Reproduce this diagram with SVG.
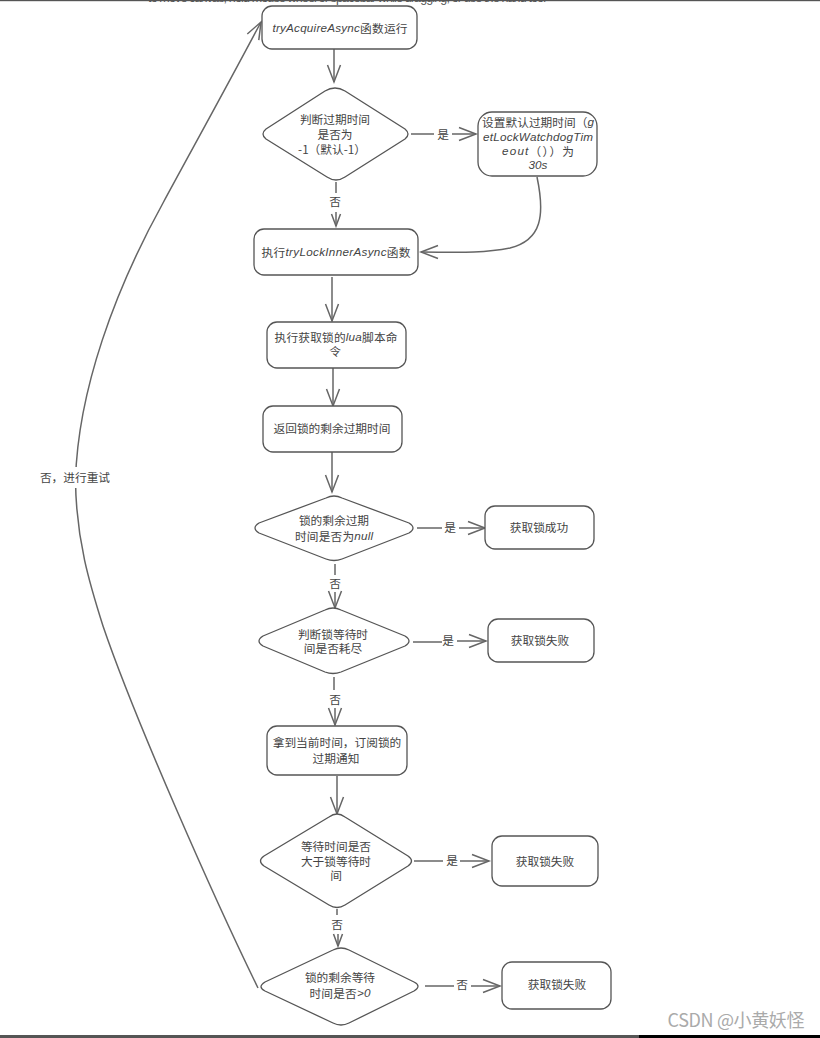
<svg xmlns="http://www.w3.org/2000/svg" width="820" height="1038" viewBox="0 0 820 1038">
<style>
text{font-family:"Noto Sans CJK SC","Liberation Sans",sans-serif;font-size:11.7px;fill:#444;text-anchor:middle;dominant-baseline:central;transform:translateY(-1px)}
.l{font-family:"Liberation Sans",sans-serif;font-style:italic}
.shape{fill:#fff;stroke:#555;stroke-width:1.3;stroke-linejoin:round}
.edge{fill:none;stroke:#666;stroke-width:1.5}
.big{marker-end:url(#big)}
.small{marker-end:url(#small)}
</style>
<defs>
<marker id="big" markerUnits="userSpaceOnUse" markerWidth="22" markerHeight="18" refX="19" refY="9" orient="auto" overflow="visible"><path d="M2,2.5L19,9L2,15.500" fill="none" stroke="#666" stroke-width="1.500"/></marker>
<marker id="small" markerUnits="userSpaceOnUse" markerWidth="16" markerHeight="16" refX="14" refY="8" orient="auto" overflow="visible"><path d="M2,3.500L14,8L2,12.500" fill="none" stroke="#666" stroke-width="1.500"/></marker>
</defs>
<rect width="820" height="1038" fill="#fff"/>
<text id="top-hint" x="347" y="3" style="font-family:'Liberation Sans',sans-serif;font-size:12.500px;fill:#555;dominant-baseline:auto" textLength="398">to move canvas, hold mouse wheel or spacebar while dragging, or use the hand tool</text>
<rect id="top-bar" width="820" height="1.200" fill="#555"/>
<g id="connectors">
<path class="edge big" d="M334,49V82"/>
<path class="edge" d="M411,134H434"/><path class="edge big" d="M452,134H476"/>
<path class="edge" d="M336,182V193"/><path class="edge small" d="M336,212V226"/>
<path class="edge big" d="M537,177C545,215 542,240 510,248C480,254 450,252 421,252"/>
<path class="edge big" d="M332,277V321"/>
<path class="edge big" d="M333,368V406"/>
<path class="edge big" d="M332,452V492"/>
<path class="edge" d="M417,528H442"/><path class="edge big" d="M459,528H485"/>
<path class="edge" d="M335,564V575"/><path class="edge big" d="M335,592V608"/>
<path class="edge" d="M413,642H442"/><path class="edge big" d="M457,641H486"/>
<path class="edge" d="M334,677V690"/><path class="edge big" d="M335,708V725"/>
<path class="edge big" d="M337,776V814"/>
<path class="edge" d="M414,861H443"/><path class="edge big" d="M460,861H489"/>
<path class="edge" d="M337,909V915"/><path class="edge small" d="M338,934V946"/>
<path class="edge" d="M425,986H454"/><path class="edge big" d="M471,986H500"/>
<path class="edge big" d="M258,988C215,900 135,720 103,626C90,585 76,540 75.500,480C78,390 115,290 163,203C190,153 225,90 261,22"/>
<rect x="38" y="467" width="74" height="21" fill="#fff"/>
</g>
<g id="n1"><rect class="shape" x="262" y="6" width="155" height="43" rx="10"/><text x="340" y="28" textLength="135"><tspan class="l">tryAcquireAsync</tspan>函数运行</text></g>
<g id="n2"><path class="shape" d="M335,88Q340,88 345,91L405,129Q411,134 405,139L345,177Q336,183 327,177L266,139Q260,134 266,129L325,91Q330,88 335,88Z"/><text x="335" y="119">判断过期时间</text><text x="335" y="134">是否为</text><text x="332" y="149">-1（默认-1）</text></g>
<g id="n3"><rect class="shape" x="478" y="112" width="119" height="64" rx="14"/><text x="538" y="122" textLength="112">设置默认过期时间（<tspan class="l">g</tspan></text><text x="538" y="137" textLength="110" class="l">etLockWatchdogTim</text><text x="538" y="151" textLength="72"><tspan class="l">eout</tspan>（））为</text><text x="538" y="165" class="l">30s</text></g>
<g id="n4"><rect class="shape" x="254" y="229" width="164" height="46" rx="10"/><text x="336" y="252" textLength="149">执行<tspan class="l">tryLockInnerAsync</tspan>函数</text></g>
<g id="n5"><rect class="shape" x="267" y="322" width="139" height="46" rx="10"/><text x="336" y="337" textLength="123">执行获取锁的<tspan class="l">lua</tspan>脚本命</text><text x="335" y="351">令</text></g>
<g id="n6"><rect class="shape" x="263" y="406" width="139" height="46" rx="10"/><text x="332" y="428">返回锁的剩余过期时间</text></g>
<g id="n7"><path class="shape" d="M334,496Q338,496 342,498L409,523Q417,528 409,533L342,559Q334,562 326,559L259,533Q251,528 259,523L326,498Q330,496 334,496Z"/><text x="334" y="520">锁的剩余过期</text><text x="334" y="536" textLength="78">时间是否为<tspan class="l">null</tspan></text></g>
<g id="n8"><rect class="shape" x="485" y="506" width="109" height="43" rx="10"/><text x="539" y="527">获取锁成功</text></g>
<g id="n9"><path class="shape" d="M333,608Q337,608 341,610L405,636Q413,641 405,646L341,672Q333,675 325,672L263,646Q255,641 263,636L325,610Q329,608 333,608Z"/><text x="333" y="634">判断锁等待时</text><text x="333" y="648">间是否耗尽</text></g>
<g id="n10"><rect class="shape" x="488" y="619" width="106" height="43" rx="10"/><text x="540" y="640">获取锁失败</text></g>
<g id="n11"><rect class="shape" x="267" y="726" width="140" height="49" rx="10"/><text x="337" y="742">拿到当前时间，订阅锁的</text><text x="336" y="758">过期通知</text></g>
<g id="n12"><path class="shape" d="M337,814Q341,814 345,817L408,856Q415,861 408,866L345,905Q337,910 329,905L264,866Q257,861 264,856L329,817Q333,814 337,814Z"/><text x="336" y="846">等待时间是否</text><text x="336" y="861">大于锁等待时</text><text x="336" y="875">间</text></g>
<g id="n13"><rect class="shape" x="492" y="836" width="106" height="50" rx="10"/><text x="545" y="861">获取锁失败</text></g>
<g id="n14"><path class="shape" d="M341,948Q345,948 349,950L414,982Q422,986 414,991L349,1023Q341,1027 333,1023L265,991Q257,987 265,982L333,950Q337,948 341,948Z"/><text x="340" y="977">锁的剩余等待</text><text x="340" y="993" textLength="61">时间是否<tspan class="l">&gt;0</tspan></text></g>
<g id="n15"><rect class="shape" x="502" y="962" width="109" height="47" rx="10"/><text x="557" y="984">获取锁失败</text></g>
<g id="labels">
<text x="443" y="134">是</text><text x="335" y="201">否</text>
<text x="450" y="527">是</text><text x="335" y="583">否</text>
<text x="448" y="640">是</text><text x="335" y="699">否</text>
<text x="452" y="860">是</text><text x="337" y="924">否</text>
<text x="462" y="984">否</text><text x="75" y="477">否，进行重试</text>
</g>
<g id="footer"><rect x="0" y="1035" width="639" height="3" fill="#555"/><rect x="639" y="1035" width="181" height="3" fill="#000"/>
<text x="736" y="1020" textLength="137" style="font-size:18px;fill:#aaa">CSDN @小黄妖怪</text></g>
</svg>
